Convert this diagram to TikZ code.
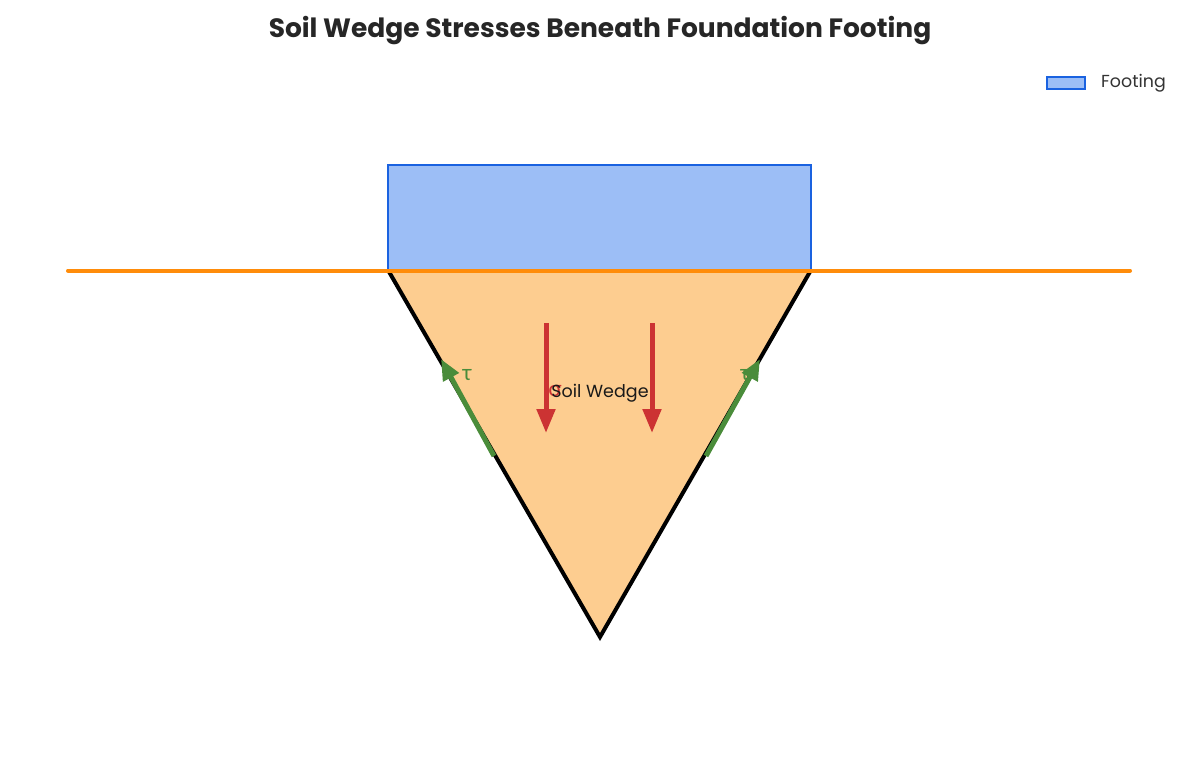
\documentclass[tikz,border=0pt]{standalone}
\usepackage{fontspec}
\setmainfont{Poppins}
\newfontfamily\greekfont{Lato}
\usetikzlibrary{arrows.meta}
\definecolor{footfill}{HTML}{9CBEF6}
\definecolor{footline}{HTML}{1A62E0}
\definecolor{ground}{HTML}{FF8C0A}
\definecolor{wedge}{HTML}{FDCD90}
\definecolor{stressred}{HTML}{CC3333}
\definecolor{shear}{HTML}{4A8C3A}
\tikzset{
  x=1pt,y=-1pt,
  redarrow/.style={draw=stressred,line width=5pt,-{Triangle[length=24pt,width=18pt]}},
  greenarrow/.style={draw=shear,line width=5pt,-{Triangle[length=21pt,width=17pt]}},
  lbl/.style={inner sep=0pt,anchor=center},
  greek/.style={lbl,font=\greekfont\fontsize{22}{26}\selectfont},
}
\begin{document}
\begin{tikzpicture}
\useasboundingbox (0,0) rectangle (1200,763);
\fill[white] (0,0) rectangle (1200,763);
% title
\node[lbl,font=\bfseries\fontsize{26.5}{31}\selectfont,text=black!85] (title) at (600,31) {Soil Wedge Stresses Beneath Foundation Footing};
% legend
\node[draw=footline,fill=footfill,line width=2pt,minimum width=38pt,minimum height=12pt,inner sep=0pt] (legbox) at (1065.5,82.5) {};
\node[lbl,anchor=west,font=\fontsize{17.4}{21}\selectfont,text=black!80] (legtext) at (1101,83) {Footing};
% wedge
\coordinate (wl) at (388,270);
\coordinate (wr) at (811,270);
\coordinate (wb) at (600,637);
\fill[wedge] (wl) -- (wr) -- (wb) -- cycle;
\draw[black,line width=4pt,line join=miter] (wl) -- (wb) -- (wr);
% footing
\node[draw=footline,fill=footfill,line width=2pt,minimum width=423pt,minimum height=105pt,inner sep=0pt] (footing) at (599.5,217.5) {};
% ground line
\coordinate (g1) at (68,270.5);
\coordinate (g2) at (1130,270.5);
\draw[ground,line width=4pt,line cap=round] (g1) -- (g2);
% red normal stress arrows
\coordinate (r1s) at (546,323);
\coordinate (r1e) at (546,433);
\coordinate (r2s) at (652,323);
\coordinate (r2e) at (652,433);
\node[greek,text=stressred] (sigma) at (555,391) {σ};
\draw[redarrow] (r1s) -- (r1e);
\draw[redarrow] (r2s) -- (r2e);
% green shear arrows
\coordinate (g1s) at (494,456);
\coordinate (g1e) at (441,359);
\coordinate (g2s) at (706,456);
\coordinate (g2e) at (760,359);
\draw[greenarrow] (g1s) -- (g1e);
\draw[greenarrow] (g2s) -- (g2e);
\node[greek,text=shear] (tau1) at (467,375) {τ};
\node[greek,text=shear] (tau2) at (745,375) {τ};
% wedge label
\node[lbl,font=\fontsize{17.5}{21}\selectfont,text=black!90] (wlabel) at (600,393) {Soil Wedge};
\end{tikzpicture}
\end{document}
